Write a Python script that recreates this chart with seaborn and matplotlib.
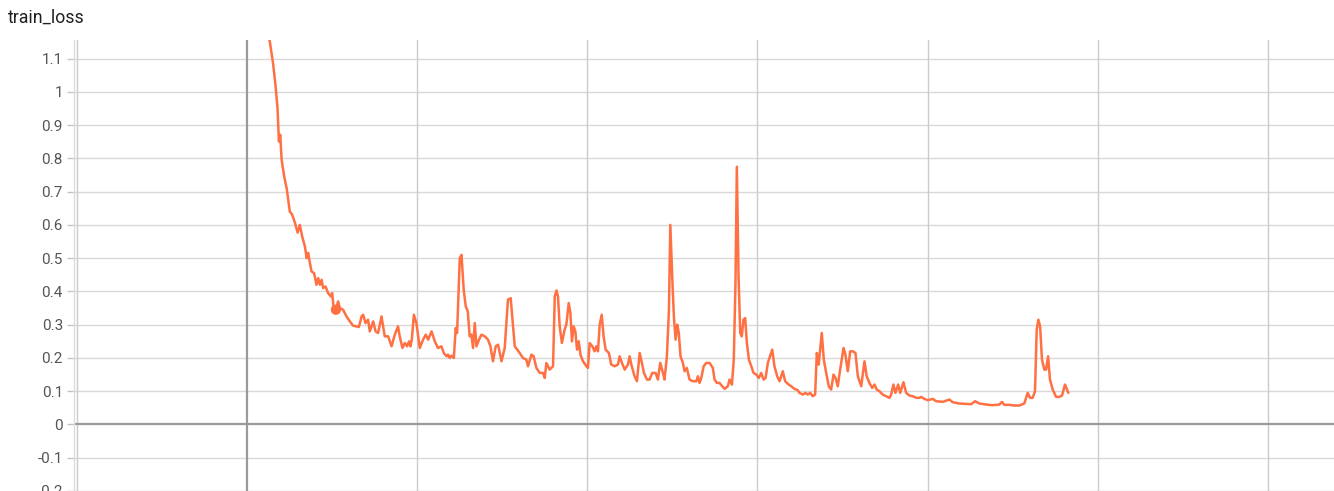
import numpy as np
import pandas as pd
import matplotlib
matplotlib.use("Agg")
import matplotlib.pyplot as plt
import seaborn as sns
from matplotlib.ticker import FuncFormatter

# training loss
steps = [112, 135, 154, 169, 180, 188, 196, 204, 219, 235, 243, 252, 266, 282, 298, 311,
         325, 341, 351, 360, 370, 380, 395, 409, 419, 429, 439, 448, 462, 477, 493, 501,
         509, 523, 536, 546, 565, 585, 605, 624, 644, 658, 674, 683, 697, 712, 722, 742,
         756, 771, 791, 810, 830, 850, 869, 888, 898, 914, 928, 941, 953, 961, 969, 981,
         996, 1016, 1035, 1051, 1065, 1085, 1104, 1123, 1143, 1157, 1173, 1182, 1192, 1202,
         1216, 1227, 1235, 1251, 1261, 1274, 1286, 1298, 1309, 1319, 1329, 1339, 1349, 1364,
         1378, 1398, 1417, 1431, 1446, 1462, 1476, 1496, 1515, 1534, 1550, 1574, 1603, 1622,
         1642, 1652, 1672, 1685, 1701, 1721, 1740, 1750, 1760, 1779, 1799, 1809, 1819, 1828,
         1838, 1851, 1867, 1877, 1891, 1901, 1910, 1920, 1930, 1940, 1950, 1960, 1975, 1995,
         2004, 2014, 2030, 2043, 2053, 2063, 2073, 2085, 2096, 2108, 2127, 2141, 2161, 2180,
         2190, 2204, 2220, 2239, 2249, 2259, 2278, 2292, 2308, 2319, 2333, 2351, 2366, 2382,
         2402, 2415, 2429, 2445, 2454, 2468, 2480, 2488, 2500, 2509, 2519, 2529, 2538, 2548,
         2562, 2572, 2585, 2601, 2621, 2641, 2650, 2660, 2670, 2684, 2699, 2719, 2738, 2748,
         2762, 2777, 2793, 2807, 2826, 2836, 2850, 2861, 2871, 2879, 2889, 2899, 2908, 2918,
         2928, 2938, 2950, 2964, 2977, 2993, 3008, 3022, 3036, 3048, 3061, 3087, 3100, 3116,
         3130, 3149, 3163, 3179, 3198, 3218, 3237, 3247, 3267, 3282, 3296, 3310, 3325, 3339,
         3349, 3360, 3378, 3390, 3404, 3419, 3433, 3447, 3459, 3472, 3486, 3506, 3517, 3531,
         3545, 3560, 3576, 3590, 3610, 3629, 3642, 3658, 3674, 3688, 3701, 3717, 3736, 3756,
         3776, 3786, 3799, 3811, 3827, 3839, 3858, 3874, 3893, 3913, 3933, 3952, 3962, 3981,
         4001, 4030, 4050, 4089, 4128, 4147, 4187, 4226, 4256, 4279, 4304, 4344, 4382, 4422,
         4437, 4451, 4480, 4510, 4539, 4568, 4588, 4602, 4617, 4631, 4641, 4651, 4661, 4672,
         4686, 4696, 4708, 4719, 4735, 4755, 4774, 4790, 4807, 4827]

loss = [1.20, 1.15, 1.085, 1.015, 0.95, 0.851, 0.871, 0.796, 0.746, 0.706, 0.676, 0.64, 0.631, 0.607, 0.577, 0.60,
        0.565, 0.535, 0.50, 0.516, 0.486, 0.46, 0.455, 0.42, 0.44, 0.42, 0.435, 0.41, 0.415, 0.395, 0.385, 0.395,
        0.355, 0.345, 0.37, 0.35, 0.345, 0.325, 0.31, 0.297, 0.295, 0.293, 0.325, 0.33, 0.305, 0.315, 0.28, 0.31,
        0.28, 0.275, 0.325, 0.265, 0.265, 0.235, 0.27, 0.295, 0.265, 0.23, 0.245, 0.235, 0.25, 0.235, 0.255, 0.33,
        0.305, 0.23, 0.255, 0.27, 0.255, 0.28, 0.25, 0.23, 0.235, 0.215, 0.205, 0.21, 0.20, 0.207,
        0.20, 0.29, 0.275, 0.50, 0.51, 0.405, 0.355, 0.34, 0.265, 0.27, 0.23, 0.305, 0.235, 0.255,
        0.27, 0.265, 0.255, 0.235, 0.19, 0.235, 0.24, 0.19, 0.23, 0.375, 0.38, 0.235, 0.215, 0.20,
        0.195, 0.175, 0.21, 0.205, 0.17, 0.155, 0.155, 0.14, 0.185, 0.165, 0.175, 0.385, 0.403, 0.385,
        0.295, 0.245, 0.285, 0.30, 0.365, 0.335, 0.25, 0.295, 0.28, 0.225, 0.25, 0.21, 0.19, 0.175,
        0.17, 0.245, 0.235, 0.22, 0.235, 0.22, 0.30, 0.33, 0.265, 0.225, 0.215, 0.18, 0.175, 0.18,
        0.205, 0.185, 0.165, 0.18, 0.205, 0.18, 0.145, 0.13, 0.215, 0.19, 0.155, 0.135, 0.135, 0.155,
        0.155, 0.135, 0.185, 0.155, 0.135, 0.205, 0.345, 0.60, 0.435, 0.325, 0.255, 0.30, 0.275, 0.205,
        0.185, 0.16, 0.17, 0.135, 0.13, 0.13, 0.145, 0.125, 0.14, 0.175, 0.185, 0.185, 0.17, 0.135,
        0.125, 0.125, 0.115, 0.107, 0.115, 0.135, 0.12, 0.195, 0.425, 0.775, 0.445, 0.275, 0.265, 0.315,
        0.32, 0.245, 0.195, 0.175, 0.155, 0.15, 0.14, 0.155, 0.135, 0.14, 0.185, 0.225, 0.175, 0.145,
        0.13, 0.16, 0.13, 0.122, 0.115, 0.107, 0.103, 0.095, 0.09, 0.095, 0.09, 0.095, 0.085, 0.09,
        0.215, 0.18, 0.275, 0.195, 0.155, 0.115, 0.105, 0.15, 0.14, 0.115, 0.165, 0.23, 0.21, 0.16,
        0.22, 0.22, 0.215, 0.145, 0.115, 0.19, 0.145, 0.125, 0.11, 0.12, 0.105, 0.10, 0.09, 0.085,
        0.08, 0.09, 0.12, 0.095, 0.12, 0.095, 0.127, 0.095, 0.087, 0.085, 0.08, 0.08, 0.083, 0.077,
        0.073, 0.077, 0.07, 0.068, 0.075, 0.067, 0.063, 0.062, 0.061, 0.07, 0.063, 0.06, 0.058, 0.06,
        0.068, 0.059, 0.059, 0.057, 0.057, 0.063, 0.095, 0.08, 0.08, 0.10, 0.285, 0.315, 0.295, 0.195,
        0.165, 0.165, 0.205, 0.135, 0.105, 0.083, 0.083, 0.087, 0.12, 0.095]

hover_step = 523
hover_loss = 0.345

y_ticks = [1.1, 1.0, 0.9, 0.8, 0.7, 0.6, 0.5, 0.4, 0.3, 0.2, 0.1, 0.0, -0.1, -0.2]

df = pd.DataFrame({"step": steps, "loss": loss})

sns.set_style("white")
plt.rcParams["font.family"] = ["Roboto", "DejaVu Sans"]

fig = plt.figure(figsize=(13.34, 4.91), dpi=100)
ax = fig.add_axes([74 / 1334, 0, 1 - 74 / 1334, 1 - 40 / 491])

ax.set_xlim(-1016, 6388)
ax.set_ylim(-0.198, 1.156)

# grid lines, the zero lines are darker like in tensorboard
for v in y_ticks:
    if abs(v) < 1e-9:
        ax.axhline(v, color="#9a9a9a", lw=1.6, zorder=1)
    else:
        ax.axhline(v, color="#d9d9d9", lw=1.0, zorder=0)
for s in range(-1000, 7000, 1000):
    if s == 0:
        ax.axvline(s, color="#9a9a9a", lw=1.6, zorder=1)
    else:
        ax.axvline(s, color="#cbcbcb", lw=1.0, zorder=0)

sns.lineplot(data=df, x="step", y="loss", ax=ax, color="#ff7043", lw=1.8, zorder=3)
ax.scatter([hover_step], [hover_loss], s=55, color="#ff7043", zorder=4, edgecolor="none")

for side in ["top", "right", "bottom"]:
    ax.spines[side].set_visible(False)
ax.spines["left"].set_color("#dcdcdc")
ax.spines["left"].set_linewidth(1.0)

ax.set_yticks(y_ticks)
ax.yaxis.set_major_formatter(FuncFormatter(lambda v, p: f"{round(v, 2):g}"))
ax.tick_params(axis="y", length=5, width=1, color="#c4c4c4", labelsize=11,
               labelcolor="#555555", pad=3, left=True)
ax.set_xticks([])
ax.set_xlabel("")
ax.set_ylabel("")

fig.text(8 / 1334, 1 - 18 / 491, "train_loss", fontsize=12.8, color="#212121",
         va="center", ha="left")

fig.savefig("out.png", dpi=100)
